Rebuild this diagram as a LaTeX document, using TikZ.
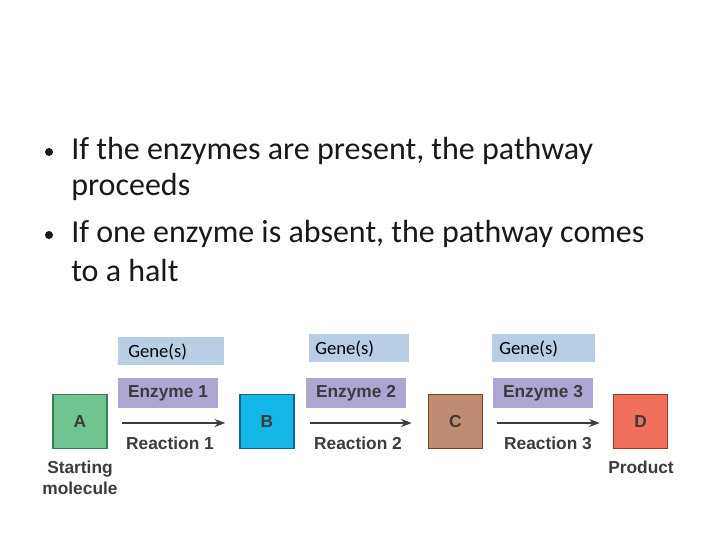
\documentclass[tikz,border=0pt]{standalone}
\usepackage{fontspec}
\setmainfont{Carlito}
\newfontfamily\arialfont{Liberation Sans}
\usetikzlibrary{arrows.meta,calc}
\definecolor{genec}{RGB}{185,205,229}
\definecolor{enzc}{RGB}{172,166,210}
\definecolor{ac}{RGB}{112,196,146}
\definecolor{acd}{RGB}{50,130,80}
\definecolor{bc}{RGB}{20,182,232}
\definecolor{bcd}{RGB}{20,100,140}
\definecolor{cc}{RGB}{190,140,112}
\definecolor{ccd}{RGB}{110,70,50}
\definecolor{dc}{RGB}{240,112,92}
\definecolor{dcd}{RGB}{150,60,45}
\definecolor{labc}{RGB}{60,60,60}
\tikzset{
  bullettext/.style={anchor=west,inner sep=0pt,text=black!90,font=\fontsize{24}{28}\selectfont},
  genetext/.style={anchor=west,inner sep=0pt,font=\fontsize{14}{16}\selectfont},
  enzbox/.style={fill=enzc,draw=none,inner sep=0pt,minimum width=75pt,minimum height=23pt,
    font=\arialfont\bfseries\fontsize{13}{15}\selectfont,text=labc},
  mol/.style={draw=#1,line width=1.2pt,inner sep=0pt,minimum size=40.5pt,
    font=\arialfont\bfseries\fontsize{13}{15}\selectfont,text=labc},
  rxn/.style={font=\arialfont\bfseries\fontsize{13}{15}\selectfont,text=labc,inner sep=0pt},
  rarrow/.style={draw=labc,line width=0.9pt,-{Stealth[length=8pt,width=6pt]}}
}
\begin{document}
\begin{tikzpicture}[x=0.75pt,y=-0.75pt]
\useasboundingbox[fill=white] (0,0) rectangle (720,540);
% bullets
\node[bullettext] (b1) at (71,151) {If the enzymes are present, the pathway};
\node[bullettext] (b1b) at (71,187) {proceeds};
\node[bullettext] (b2) at (71,234) {If one enzyme is absent, the pathway comes};
\node[bullettext] (b2b) at (71,270) {to a halt};
\fill[black!90] (49,152) circle (4);
\fill[black!90] (49,235) circle (4);
% gene boxes
\fill[genec] (118,337) rectangle (224,365);
\node[genetext] (g1) at (128,352) {Gene(s)};
\fill[genec] (309,334) rectangle (409,362);
\node[genetext] (g2) at (315,349) {Gene(s)};
\fill[genec] (492,334) rectangle (595,362);
\node[genetext] (g3) at (499,349) {Gene(s)};
% enzymes
\node[enzbox] (e1) at (168,393) {Enzyme 1};
\node[enzbox] (e2) at (356,393) {Enzyme 2};
\node[enzbox] (e3) at (543,393) {Enzyme 3};
% molecules
\node[mol=acd,fill=ac] (A) at (80,421.5) {A};
\node[mol=bcd,fill=bc] (B) at (267,421.5) {B};
\node[mol=ccd,fill=cc] (C) at (455.5,421.5) {C};
\node[mol=dcd,fill=dc] (D) at (640.5,421.5) {D};
% arrows
\coordinate (a1s) at ($(A.east)+(14,1.5)$);
\coordinate (a1e) at ($(B.west)+(-14,1.5)$);
\coordinate (a2s) at ($(B.east)+(15,1.5)$);
\coordinate (a2e) at ($(C.west)+(-16,1.5)$);
\coordinate (a3s) at ($(C.east)+(14,1.5)$);
\coordinate (a3e) at ($(D.west)+(-13,1.5)$);
\draw[rarrow] (a1s) -- (a1e);
\draw[rarrow] (a2s) -- (a2e);
\draw[rarrow] (a3s) -- (a3e);
\node[rxn] (r1) at (170,443) {Reaction 1};
\node[rxn] (r2) at (358,443) {Reaction 2};
\node[rxn] (r3) at (548,443) {Reaction 3};
\node[rxn,align=center,font=\arialfont\bfseries\fontsize{13}{16}\selectfont] (sm) at (80,477.5) {Starting\\molecule};
\node[rxn] (pr) at (641,467) {Product};
\end{tikzpicture}
\end{document}
